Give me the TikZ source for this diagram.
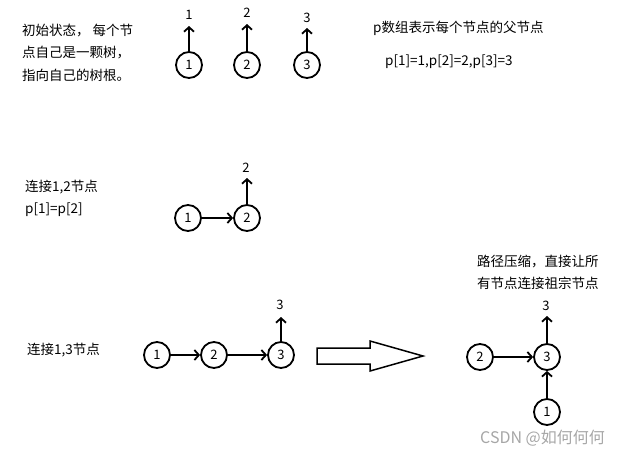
\documentclass[tikz,border=0pt]{standalone}
\usepackage{fontspec}
\setmainfont{Noto Sans CJK SC}
\usetikzlibrary{arrows.meta}
\begin{document}
\begin{tikzpicture}[x=1pt,y=-1pt,
  nd/.style={circle,draw,line width=1.8pt,minimum size=26pt,inner sep=0pt,font=\fontsize{13}{15}\selectfont},
  lbl/.style={inner sep=0pt,font=\fontsize{13}{15}\selectfont},
  txt/.style={inner sep=0pt,anchor=west,font=\fontsize{13.5}{15}\selectfont},
  arr/.style={line width=1.8pt,-{Straight Barb[length=4.5pt,width=10pt,line width=1.8pt]}},
  bigarr/.style={draw,line width=1.5pt,fill=white}]
\useasboundingbox (0,0) rectangle (631,456);
% top row
\node[txt] (t1) at (22,31) {初始状态， 每个节};
\node[txt] (t2) at (22,53) {点自己是一颗树，};
\node[txt] (t3) at (22,75) {指向自己的树根。};
\node[nd] (a1) at (189,65) {1};
\node[nd] (a2) at (247,65) {2};
\node[nd] (a3) at (307,65) {3};
\coordinate (a1t) at (189,26);
\coordinate (a2t) at (247,24);
\coordinate (a3t) at (307,28);
\draw[arr] (a1.north) -- (a1t);
\draw[arr] (a2.north) -- (a2t);
\draw[arr] (a3.north) -- (a3t);
\node[lbl] (l1) at (189,15) {1};
\node[lbl] (l2) at (247,13) {2};
\node[lbl] (l3) at (307,18) {3};
\node[txt] (t4) at (373,28) {p数组表示每个节点的父节点};
\node[txt] (t5) at (385,62) {p[1]=1,p[2]=2,p[3]=3};
% middle
\node[txt] (m1) at (25,187) {连接1,2节点};
\node[txt] (m2) at (25,210) {p[1]=p[2]};
\node[nd] (b1) at (188,218) {1};
\node[nd] (b2) at (247,218) {2};
\draw[arr] (b1.east) -- (b2.west);
\coordinate (b2t) at (247,178);
\draw[arr] (b2.north) -- (b2t);
\node[lbl] (l4) at (246,168) {2};
% bottom
\node[txt] (c0) at (27,350) {连接1,3节点};
\node[nd] (c1) at (157,355) {1};
\node[nd] (c2) at (214,355) {2};
\node[nd] (c3) at (281,355) {3};
\draw[arr] (c1.east) -- (c2.west);
\draw[arr] (c2.east) -- (c3.west);
\coordinate (c3t) at (281,317);
\draw[arr] (c3.north) -- (c3t);
\node[lbl] (l5) at (280,305) {3};
% big arrow
\draw[bigarr] (317,348) -- (370,348) -- (370,341) -- (423,356) -- (370,371) -- (370,364) -- (317,364) -- cycle;
% right
\node[txt] (r1) at (477,262) {路径压缩，直接让所};
\node[txt] (r2) at (477,283) {有节点连接祖宗节点};
\node[nd] (d2) at (480,357) {2};
\node[nd] (d3) at (547,357) {3};
\node[nd] (d1) at (547,412) {1};
\draw[arr] (d2.east) -- (d3.west);
\draw[arr] (d1.north) -- (d3.south);
\coordinate (d3t) at (547,316);
\draw[arr] (d3.north) -- (d3t);
\node[lbl] (l6) at (546,306) {3};
\node[txt,text=black!35,font=\fontsize{16}{18}\selectfont] (wm) at (480,438) {CSDN @如何何何};
\end{tikzpicture}
\end{document}
